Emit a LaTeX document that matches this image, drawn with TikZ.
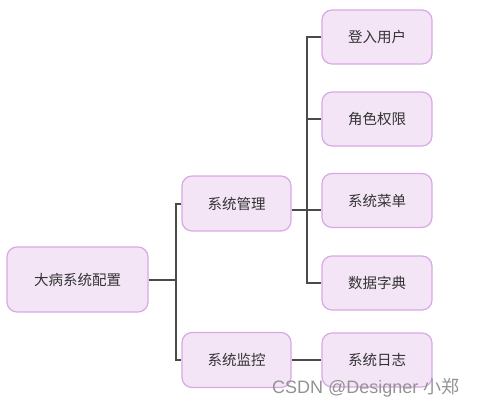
\documentclass[tikz,border=0pt]{standalone}
\usepackage{fontspec}
\setmainfont{Liberation Sans}
\newfontfamily\cjk{Noto Sans CJK SC}
\definecolor{boxfill}{HTML}{F3E5F6}
\definecolor{boxdraw}{HTML}{D9A8E6}
\definecolor{linec}{HTML}{4A4A4A}
\definecolor{txtc}{HTML}{333333}
\begin{document}
\begin{tikzpicture}[x=1pt,y=-1pt,
  box/.style={draw=boxdraw,fill=boxfill,line width=1.2pt,rounded corners=10pt,
    text=txtc,font=\cjk\fontsize{14.5}{16}\selectfont,inner sep=0pt},
  conn/.style={draw=linec,line width=2pt}]
\useasboundingbox (0,0) rectangle (481,407);
\node[box,minimum width=141pt,minimum height=65pt] (root) at (77.5,279.5) {大病系统配置};
\node[box,minimum width=109pt,minimum height=55pt] (mgmt) at (236.5,203.5) {系统管理};
\node[box,minimum width=109pt,minimum height=55pt] (mon) at (236.5,360) {系统监控};
\node[box,minimum width=110pt,minimum height=54pt] (login) at (377,37) {登入用户};
\node[box,minimum width=110pt,minimum height=54pt] (role) at (377,119) {角色权限};
\node[box,minimum width=110pt,minimum height=54pt] (menu) at (377,200.5) {系统菜单};
\node[box,minimum width=110pt,minimum height=54pt] (dict) at (377,283) {数据字典};
\node[box,minimum width=110pt,minimum height=54pt] (log) at (377,360) {系统日志};
\coordinate (j1) at (176,280);
\coordinate (j2) at (307,209.5);
% level 1
\draw[conn] (root.east |- j1) -- (j1);
\draw[conn] (mgmt.west) -| (j1) |- (mon.west);
% level 2
\draw[conn] (mgmt.east |- j2) -- (menu.west |- j2);
\draw[conn] (login.west) -| (j2) |- (dict.west);
\draw[conn] (role.west) -- (role.west -| j2);
\draw[conn] (mon.east) -- (log.west);
\node[anchor=base west,text=gray!85,font=\fontsize{18}{20}\selectfont,inner sep=0pt] (wm) at (272,393) {CSDN @Designer {\cjk 小郑}};
\end{tikzpicture}
\end{document}
